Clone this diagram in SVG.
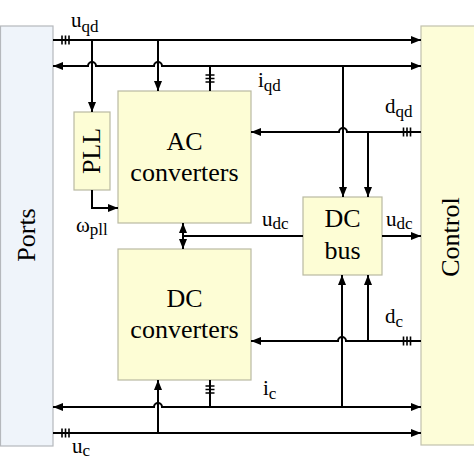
<svg xmlns="http://www.w3.org/2000/svg" width="474" height="463" viewBox="0 0 474 463">
<defs>
<marker id="ah" viewBox="0 0 10 8" refX="10" refY="4" markerWidth="10" markerHeight="8" markerUnits="userSpaceOnUse" orient="auto-start-reverse">
<path d="M0,0 L10,4 L0,8 Z" fill="#000"/>
</marker>
<style>
.ln{fill:none;stroke:#000;stroke-width:2}
.tk{fill:none;stroke:#000;stroke-width:1.6}
.box{fill:#fdfdd5;stroke:#b9b9a2;stroke-width:1.2}
.side{fill:#eff4fa;stroke:#b5b8bc;stroke-width:1.2}
.sideC{fill:#fdfdd8;stroke:#c2c2ad;stroke-width:1.2}
text{font-family:"Liberation Serif","Times New Roman",serif;fill:#000}
.big{font-size:26px;text-anchor:middle}
.lb{font-size:21px}
.sb{font-size:17px}
</style>
</defs>
<rect width="474" height="463" fill="#fff"/>

<g id="ports">
<rect class="side" x="0.5" y="26" width="52.5" height="420"/>
<text class="big" transform="translate(35,235) rotate(-90)">Ports</text>
</g>
<g id="control">
<rect class="sideC" x="421" y="26" width="60" height="419"/>
<text class="big" transform="translate(459,237) rotate(-90)">Control</text>
</g>
<g id="pll">
<rect class="box" x="74" y="112" width="36" height="78"/>
<text class="big" transform="translate(100,151) rotate(-90)">PLL</text>
</g>
<g id="ac">
<rect class="box" x="118" y="91" width="133" height="132"/>
<text class="big" x="184.5" y="150">AC</text>
<text class="big" x="184.5" y="181">converters</text>
</g>
<g id="dc">
<rect class="box" x="118" y="249" width="133" height="131"/>
<text class="big" x="184.5" y="307">DC</text>
<text class="big" x="184.5" y="338">converters</text>
</g>
<g id="dcbus">
<rect class="box" x="303" y="197" width="79" height="78"/>
<text class="big" x="342.5" y="227">DC</text>
<text class="big" x="342.5" y="259">bus</text>
</g>

<g id="connectors">
<path class="ln" d="M53,40 H421" marker-end="url(#ah)"/>
<path class="ln" d="M92,40 V112" marker-end="url(#ah)"/>
<path class="ln" d="M158,40 V91" marker-end="url(#ah)"/>
<path class="tk" d="M62,35.5 V44.5 M65.5,35.5 V44.5 M69,35.5 V44.5"/>
<path class="ln" d="M53,66 H88 A4,4 0 0 1 96,66 H154 A4,4 0 0 1 162,66 H421" marker-start="url(#ah)" marker-end="url(#ah)"/>
<path class="ln" d="M210,66 V91"/>
<path class="tk" d="M205.5,75 H214.5 M205.5,78.5 H214.5 M205.5,82 H214.5"/>
<path class="ln" d="M343,66 V197" marker-end="url(#ah)"/>
<path class="ln" d="M251,132 H339 A4,4 0 0 1 347,132 H421" marker-start="url(#ah)"/>
<path class="ln" d="M368,132 V197" marker-end="url(#ah)"/>
<path class="tk" d="M403.5,127.5 V136.5 M407,127.5 V136.5 M410.5,127.5 V136.5"/>
<path class="ln" d="M92,190 V208 H118" marker-end="url(#ah)"/>
<path class="ln" d="M183,223 V249" marker-start="url(#ah)" marker-end="url(#ah)"/>
<path class="ln" d="M183,236 H303"/>
<path class="ln" d="M382,236 H421" marker-end="url(#ah)"/>
<path class="ln" d="M251,341 H338 A4,4 0 0 1 346,341 H421" marker-start="url(#ah)"/>
<path class="ln" d="M368,341 V275" marker-end="url(#ah)"/>
<path class="tk" d="M403.5,336.5 V345.5 M407,336.5 V345.5 M410.5,336.5 V345.5"/>
<path class="ln" d="M53,407 H154 A4,4 0 0 1 162,407 H421" marker-start="url(#ah)" marker-end="url(#ah)"/>
<path class="ln" d="M210,380 V407"/>
<path class="tk" d="M205.5,386 H214.5 M205.5,389.5 H214.5 M205.5,393 H214.5"/>
<path class="ln" d="M342,407 V275" marker-end="url(#ah)"/>
<path class="ln" d="M53,433 H421" marker-end="url(#ah)"/>
<path class="ln" d="M158,433 V380" marker-end="url(#ah)"/>
<path class="tk" d="M62,428.5 V437.5 M65.5,428.5 V437.5 M69,428.5 V437.5"/>
</g>

<g id="labels">
<text class="lb" x="71" y="27">u<tspan class="sb" dy="5">qd</tspan></text>
<text class="lb" x="258" y="87">i<tspan class="sb" dy="4">qd</tspan></text>
<text class="lb" x="385" y="113">d<tspan class="sb" dy="4">qd</tspan></text>
<text class="lb" x="262" y="226">u<tspan class="sb" dy="3">dc</tspan></text>
<text class="lb" x="386" y="226">u<tspan class="sb" dy="3">dc</tspan></text>
<text class="lb" x="76" y="232">ω<tspan class="sb" dy="3">pll</tspan></text>
<text class="lb" x="385" y="323">d<tspan class="sb" dy="4">c</tspan></text>
<text class="lb" x="263" y="395">i<tspan class="sb" dy="4">c</tspan></text>
<text class="lb" x="72" y="453">u<tspan class="sb" dy="3">c</tspan></text>
</g>
</svg>
